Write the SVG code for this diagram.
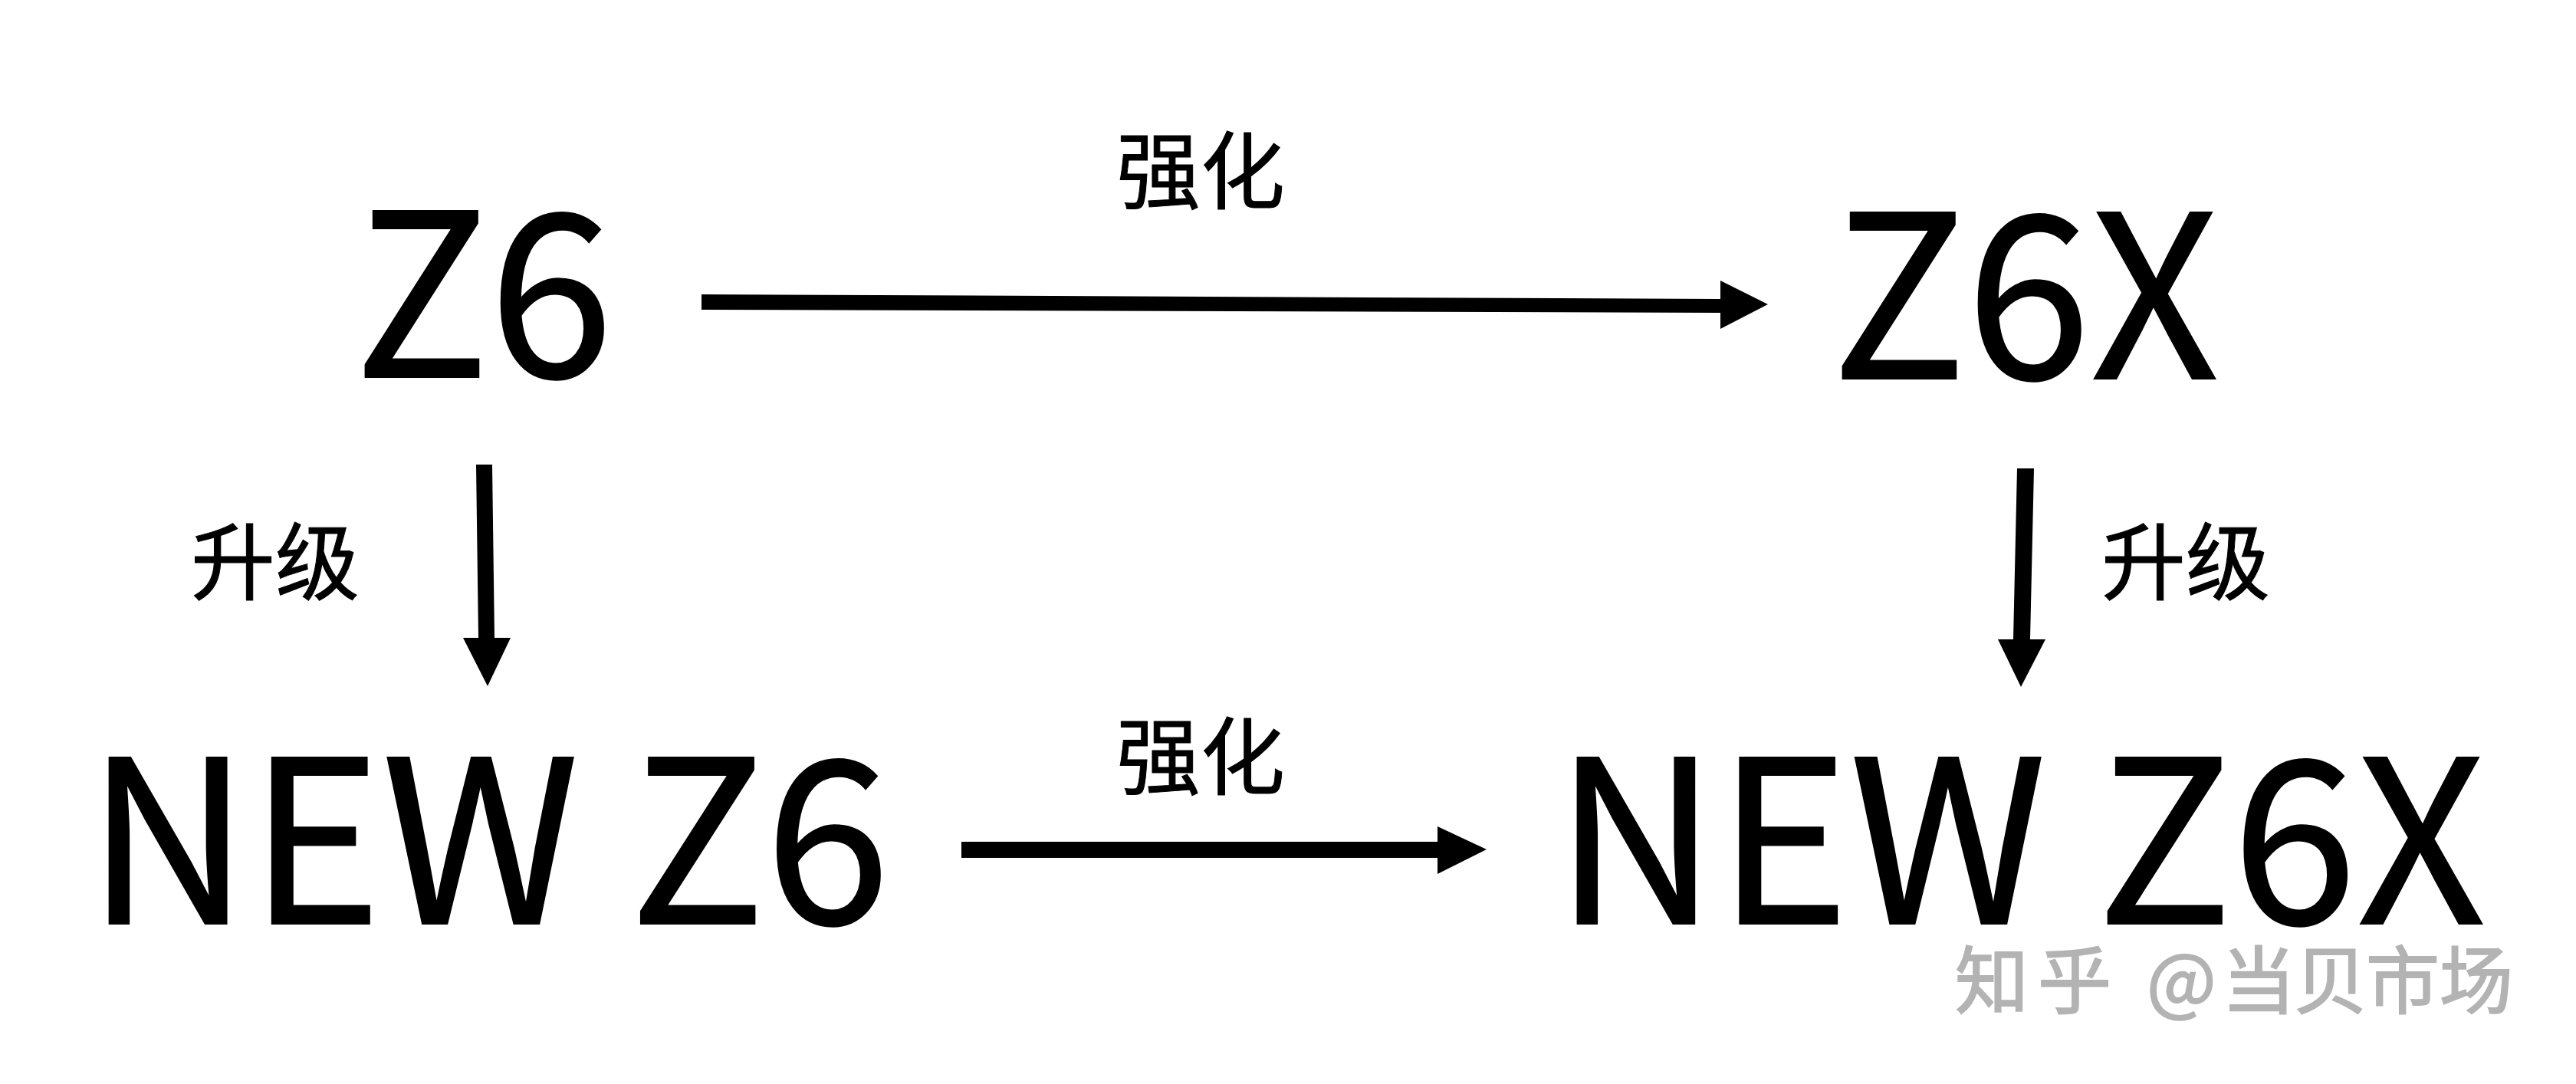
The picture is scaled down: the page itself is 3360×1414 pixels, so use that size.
<svg xmlns="http://www.w3.org/2000/svg" width="3360" height="1414" viewBox="0 0 3360 1414">
<style>
text{font-family:"Noto Sans CJK SC","Noto Sans",sans-serif;fill:#000}
.big{font-size:296px;stroke:#000;stroke-width:2px}
.lab{font-size:110px;stroke:#000;stroke-width:1px}
.wm{font-size:96px;fill:#b3b3b3;stroke:#b3b3b3;stroke-width:2px}
.arrow{fill:#000;stroke:none}
</style>
<rect width="3360" height="1414" fill="#fff"/>
<g id="connectors">
<polygon class="arrow" points="915,384 2244,390 2244,366 2306,397 2244,429 2244,408 915,404"/>
<polygon class="arrow" points="1254,1098 1875,1098 1875,1078 1939,1108 1875,1140 1875,1119 1254,1119"/>
<polygon class="arrow" points="621,606 642,606 645,832 666,832 636,895 604,832 624,832"/>
<polygon class="arrow" points="2631,611 2653,611 2648,834 2668,834 2636,896 2606,834 2626,834"/>
</g>
<g id="node-z6"><text class="big" x="462" y="492" textLength="338" lengthAdjust="spacingAndGlyphs">Z6</text></g>
<g id="node-z6x"><text class="big" x="2389" y="494" textLength="505" lengthAdjust="spacingAndGlyphs">Z6X</text></g>
<g id="node-new-z6"><text class="big" x="113" y="1205" textLength="1048" lengthAdjust="spacingAndGlyphs" xml:space="preserve">NEW Z6</text></g>
<g id="node-new-z6x"><text class="big" x="2028" y="1205" textLength="1214" lengthAdjust="spacingAndGlyphs" xml:space="preserve">NEW Z6X</text></g>
<g id="label-strengthen-top"><text class="lab" x="1456" y="264">强化</text></g>
<g id="label-strengthen-bottom"><text class="lab" x="1456" y="1028">强化</text></g>
<g id="label-upgrade-left"><text class="lab" x="249" y="774">升级</text></g>
<g id="label-upgrade-right"><text class="lab" x="2741" y="774">升级</text></g>
<g id="watermark"><text class="wm" y="1314" x="2550 2658 2800 2898 2992 3086 3182">知乎@当贝市场</text></g>
</svg>
